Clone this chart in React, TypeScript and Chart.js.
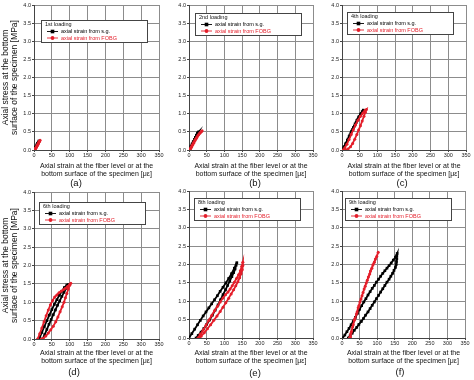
import React, { useEffect, useRef } from 'react';
import { Chart, registerables } from 'chart.js';

Chart.register(...registerables);

type P = [number, number];

// ---------- text ----------
const loadingLabels = ['1st loading', '2nd loading', '4th loading', '6th loading', '8th loading', '9th loading'];
const captions = ['(a)', '(b)', '(c)', '(d)', '(e)', '(f)'];
const seriesNames = ['axial strain from s.g.', 'axial strain from FOBG'];
const xTitle = ['Axial strain at the fiber level or at the', 'bottom surface of the specimen [με]'];
const yTitle = ['Axial stress at the bottom', 'surface of the specimen [MPa]'];

// ---------- axes ----------
const xMin = 0, xMax = 350, xStep = 50;
const yMin = 0, yMax = 4, yStep = 0.5;

// ---------- data (strain με, stress MPa) ----------
const sg1: P[] = [[0,0],[2,0.03],[4,0.07],[6,0.1],[8,0.14],[10,0.18],[12,0.21],[14,0.25],[12,0.22],[10,0.18],[8,0.14],[6,0.1],[4,0.06],[2,0.03],[1,0]];
const fobg1: P[] = [[1,0],[3,0.03],[5,0.06],[7,0.09],[9,0.13],[11,0.16],[13,0.2],[15,0.23],[17,0.27],[15,0.24],[13,0.2],[11,0.16],[9,0.12],[7,0.08],[5,0.05],[3,0.02],[2,0]];

const sg2: P[] = [[0,0],[3,0.05],[6,0.1],[9,0.16],[12,0.22],[15,0.28],[18,0.34],[21,0.4],[24,0.45],[27,0.5],[24,0.47],[21,0.41],[18,0.35],[15,0.29],[12,0.23],[9,0.17],[6,0.11],[3,0.05],[1,0]];
const fobg2: P[] = [[2,0],[5,0.05],[8,0.1],[11,0.15],[14,0.2],[17,0.26],[20,0.31],[23,0.36],[27,0.42],[31,0.47],[35,0.51],[37,0.53],[33,0.49],[29,0.45],[25,0.4],[21,0.34],[17,0.28],[13,0.21],[9,0.14],[6,0.08],[3,0.03],[1,0]];

const sg4: P[] = [[0,0],[5,0.08],[10,0.17],[15,0.27],[20,0.37],[25,0.47],[30,0.57],[35,0.66],[40,0.76],[45,0.85],[50,0.93],[55,1.01],[60,1.1],[57,1.06],[52,0.99],[47,0.91],[42,0.82],[37,0.72],[32,0.62],[27,0.52],[22,0.41],[17,0.3],[12,0.19],[7,0.09],[3,0.01]];
const fobg4: P[] = [[10,0],[17,0.03],[24,0.09],[30,0.18],[36,0.3],[42,0.43],[47,0.55],[52,0.67],[57,0.8],[62,0.93],[66,1.04],[69,1.12],[65,1.09],[59,1.02],[52,0.93],[45,0.82],[38,0.69],[32,0.56],[26,0.43],[20,0.29],[14,0.16],[8,0.06],[3,0]];

const sg6: P[] = [[24,0],[30,0.12],[36,0.26],[42,0.4],[48,0.53],[54,0.66],[60,0.79],[66,0.92],[72,1.04],[78,1.16],[84,1.27],[90,1.38],[96,1.48],[92,1.47],[85,1.4],[78,1.3],[71,1.19],[64,1.07],[57,0.94],[50,0.8],[43,0.65],[36,0.5],[29,0.34],[22,0.18],[16,0.04],[14,0]];
const fobg6: P[] = [[10,0],[16,0.14],[22,0.3],[28,0.47],[34,0.63],[40,0.79],[46,0.93],[52,1.05],[58,1.14],[64,1.2],[70,1.26],[76,1.3],[82,1.34],[88,1.38],[94,1.43],[100,1.48],[103,1.52],[100,1.46],[96,1.36],[92,1.24],[88,1.12],[84,1.0],[79,0.88],[73,0.74],[67,0.6],[61,0.47],[54,0.35],[47,0.25],[40,0.16],[33,0.08],[26,0.02],[20,0]];

const sg8: P[] = [[0,0],[8,0.12],[16,0.24],[24,0.36],[32,0.48],[40,0.6],[48,0.71],[56,0.82],[64,0.93],[72,1.04],[80,1.15],[88,1.27],[96,1.38],[104,1.5],[112,1.62],[120,1.75],[128,1.9],[135,2.05],[133,1.98],[130,1.88],[126,1.78],[121,1.67],[115,1.55],[109,1.43],[103,1.31],[96,1.18],[89,1.04],[82,0.9],[74,0.76],[66,0.62],[58,0.49],[50,0.37],[42,0.26],[34,0.16],[26,0.07],[20,0]];
const fobg8: P[] = [[25,0],[32,0.1],[40,0.22],[48,0.35],[56,0.48],[64,0.61],[72,0.74],[80,0.86],[88,0.98],[96,1.09],[103,1.18],[110,1.25],[116,1.33],[122,1.42],[128,1.52],[134,1.62],[140,1.72],[145,1.83],[149,1.95],[152,2.06],[152,1.97],[150,1.86],[147,1.75],[143,1.64],[138,1.53],[132,1.42],[126,1.31],[119,1.2],[112,1.08],[104,0.96],[96,0.84],[88,0.72],[79,0.6],[70,0.48],[61,0.36],[52,0.25],[43,0.14],[34,0.05],[29,0]];

const sg9: P[] = [[2,0],[8,0.08],[14,0.17],[20,0.26],[26,0.36],[32,0.46],[38,0.56],[44,0.67],[50,0.78],[56,0.88],[62,0.98],[68,1.07],[74,1.17],[80,1.26],[86,1.35],[92,1.43],[98,1.52],[104,1.6],[110,1.68],[116,1.76],[122,1.83],[128,1.9],[134,1.97],[140,2.04],[146,2.12],[152,2.2],[157,2.3],[156,2.24],[156,2.16],[155,2.08],[154,2.0],[152,1.92],[148,1.84],[144,1.76],[139,1.68],[134,1.6],[128,1.52],[122,1.43],[116,1.34],[110,1.25],[104,1.16],[98,1.07],[92,0.98],[86,0.89],[80,0.8],[74,0.71],[67,0.62],[61,0.53],[55,0.45],[48,0.37],[42,0.29],[35,0.21],[29,0.13],[23,0.06],[18,0]];
const fobg9: P[] = [[21,0],[25,0.12],[30,0.3],[35,0.48],[41,0.65],[46,0.82],[51,0.98],[57,1.15],[63,1.33],[69,1.5],[75,1.66],[81,1.82],[88,1.99],[95,2.15],[103,2.33],[99,2.22],[92,2.06],[85,1.9],[79,1.74],[72,1.57],[66,1.41],[60,1.24],[54,1.06],[48,0.88],[43,0.71],[37,0.53],[32,0.36],[27,0.18],[24,0.03],[23,0]];

const sgSeries = [sg1, sg2, sg4, sg6, sg8, sg9];
const fobgSeries = [fobg1, fobg2, fobg4, fobg6, fobg8, fobg9];

// ---------- layout (page pixels) ----------
type Cfg = {
  left: number; top: number; w: number; h: number; yW: number; padT: number; padR: number;
  xH: number; titlePB: number; dx: number; dy: number; capX: number; capY: number; showY: boolean;
};
const layouts: Cfg[] = [
  { left: 0, top: 0, w: 167, h: 190, yW: 34, padT: 5, padR: 8, xH: 40, titlePB: 11.8, dx: 7, dy: 15, capX: 76, capY: 183, showY: true },
  { left: 161, top: 0, w: 160, h: 190, yW: 28, padT: 5, padR: 8, xH: 40, titlePB: 11.8, dx: 6, dy: 8, capX: 255, capY: 183, showY: false },
  { left: 314, top: 0, w: 160, h: 190, yW: 28, padT: 5, padR: 8, xH: 40, titlePB: 11.8, dx: 5, dy: 7, capX: 402, capY: 183, showY: false },
  { left: 0, top: 185, w: 167, h: 195, yW: 34, padT: 7, padR: 8, xH: 41, titlePB: 14.3, dx: 5, dy: 10, capX: 74, capY: 372.5, showY: true },
  { left: 161, top: 185, w: 160, h: 195, yW: 28, padT: 6, padR: 8, xH: 42, titlePB: 14.3, dx: 5, dy: 7, capX: 255, capY: 373, showY: false },
  { left: 314, top: 185, w: 160, h: 195, yW: 28, padT: 6, padR: 9, xH: 42, titlePB: 14.3, dx: 3, dy: 7, capX: 400, capY: 372.5, showY: false },
];

const FONT = '"Liberation Sans", Arial, Helvetica, sans-serif';
const BLACK = '#000000';
const RED = '#e41e2a';
const GRID = '#8c8c8c';

const panelDecor = {
  id: 'panelDecor',
  afterDraw(chart: any, _args: any, opts: any) {
    const { ctx, chartArea: ca } = chart;
    ctx.save();
    const bx = Math.round(ca.left + opts.dx);
    const by = Math.round(ca.top + opts.dy);
    const bw = 106, bh = 22;
    ctx.fillStyle = '#ffffff';
    ctx.fillRect(bx, by, bw, bh);
    ctx.strokeStyle = '#444444';
    ctx.lineWidth = 1;
    ctx.strokeRect(bx + 0.5, by + 0.5, bw, bh);
    ctx.font = `5.5px ${FONT}`;
    ctx.textBaseline = 'middle';
    ctx.textAlign = 'left';
    ctx.fillStyle = '#111111';
    ctx.fillText(opts.title, bx + 4, by + 4.5);
    const dsList = [...chart.data.datasets].sort((a: any, b: any) => b.order - a.order);
    dsList.forEach((ds: any, i: number) => {
      const yy = by + 11.5 + i * 6.5;
      const col = ds.borderColor;
      ctx.strokeStyle = col;
      ctx.lineWidth = 0.9;
      ctx.beginPath();
      ctx.moveTo(bx + 6, yy);
      ctx.lineTo(bx + 17, yy);
      ctx.stroke();
      ctx.fillStyle = col;
      if (ds.pointStyle === 'rect') {
        ctx.fillRect(bx + 9.7, yy - 1.8, 3.6, 3.6);
      } else {
        ctx.beginPath();
        ctx.arc(bx + 11.5, yy, 1.9, 0, Math.PI * 2);
        ctx.fill();
      }
      ctx.fillText(ds.label, bx + 20, yy);
    });
    ctx.font = `9.5px ${FONT}`;
    ctx.textAlign = 'center';
    ctx.fillStyle = '#111111';
    ctx.fillText(opts.caption, opts.capX, opts.capY);
    ctx.restore();
  },
};

function Panel({ idx }: { idx: number }) {
  const ref = useRef<HTMLCanvasElement | null>(null);
  const cfg = layouts[idx];
  useEffect(() => {
    if (!ref.current) return;
    const toXY = (arr: P[]) => arr.map(([x, y]) => ({ x, y }));
    const chart = new Chart(ref.current, {
      type: 'scatter',
      data: {
        datasets: [
          {
            label: seriesNames[0],
            data: toXY(sgSeries[idx]),
            showLine: true,
            borderColor: BLACK,
            backgroundColor: BLACK,
            borderWidth: 1.8,
            pointStyle: 'rect',
            pointRadius: 1.9,
            pointBorderWidth: 0,
            order: 2,
          },
          {
            label: seriesNames[1],
            data: toXY(fobgSeries[idx]),
            showLine: true,
            borderColor: RED,
            backgroundColor: RED,
            borderWidth: 1.8,
            pointStyle: 'circle',
            pointRadius: 1.5,
            pointBorderWidth: 0,
            order: 1,
          },
        ],
      } as any,
      options: {
        responsive: false,
        maintainAspectRatio: false,
        animation: false,
        events: [],
        layout: { padding: { left: 0, right: cfg.padR, top: cfg.padT, bottom: 0 } },
        plugins: {
          legend: { display: false },
          title: { display: false },
          tooltip: { enabled: false },
          panelDecor: {
            title: loadingLabels[idx],
            caption: captions[idx],
            dx: cfg.dx,
            dy: cfg.dy,
            capX: cfg.capX - cfg.left,
            capY: cfg.capY - cfg.top,
          },
        } as any,
        scales: {
          x: {
            type: 'linear',
            min: xMin,
            max: xMax,
            ticks: {
              stepSize: xStep,
              autoSkip: false,
              maxRotation: 0,
              padding: 0,
              color: '#222222',
              font: { size: 5.5, family: FONT },
            },
            grid: { color: GRID, lineWidth: 1, tickLength: 2, tickColor: '#444444' },
            border: { color: '#444444', width: 1 },
            title: {
              display: true,
              text: xTitle,
              color: '#111111',
              font: { size: 7, family: FONT, lineHeight: 1.2 },
              padding: { top: 0, bottom: cfg.titlePB },
            },
            afterFit: (s: any) => { s.height = cfg.xH; },
          },
          y: {
            type: 'linear',
            min: yMin,
            max: yMax,
            ticks: {
              stepSize: yStep,
              padding: 1,
              color: '#222222',
              font: { size: 5.5, family: FONT },
              callback: (v: any) => Number(v).toFixed(1),
            },
            grid: { color: GRID, lineWidth: 1, tickLength: 2, tickColor: '#444444' },
            border: { color: '#444444', width: 1 },
            title: {
              display: cfg.showY,
              text: yTitle,
              color: '#111111',
              font: { size: 8.5, family: FONT, lineHeight: 1.0 },
              padding: { top: 1.75, bottom: 0 },
            },
            afterFit: (s: any) => { s.width = cfg.yW; },
          },
        },
      } as any,
      plugins: [panelDecor as any],
    });
    return () => chart.destroy();
  }, [idx]);
  return (
    <canvas
      ref={ref}
      width={cfg.w}
      height={cfg.h}
      style={{ position: 'absolute', left: cfg.left, top: cfg.top, width: cfg.w, height: cfg.h }}
    />
  );
}

export default function App() {
  return (
    <div style={{ position: 'fixed', left: 0, top: 0, width: 474, height: 380, background: '#ffffff', overflow: 'hidden' }}>
      {layouts.map((_, i) => (
        <Panel key={i} idx={i} />
      ))}
    </div>
  );
}
